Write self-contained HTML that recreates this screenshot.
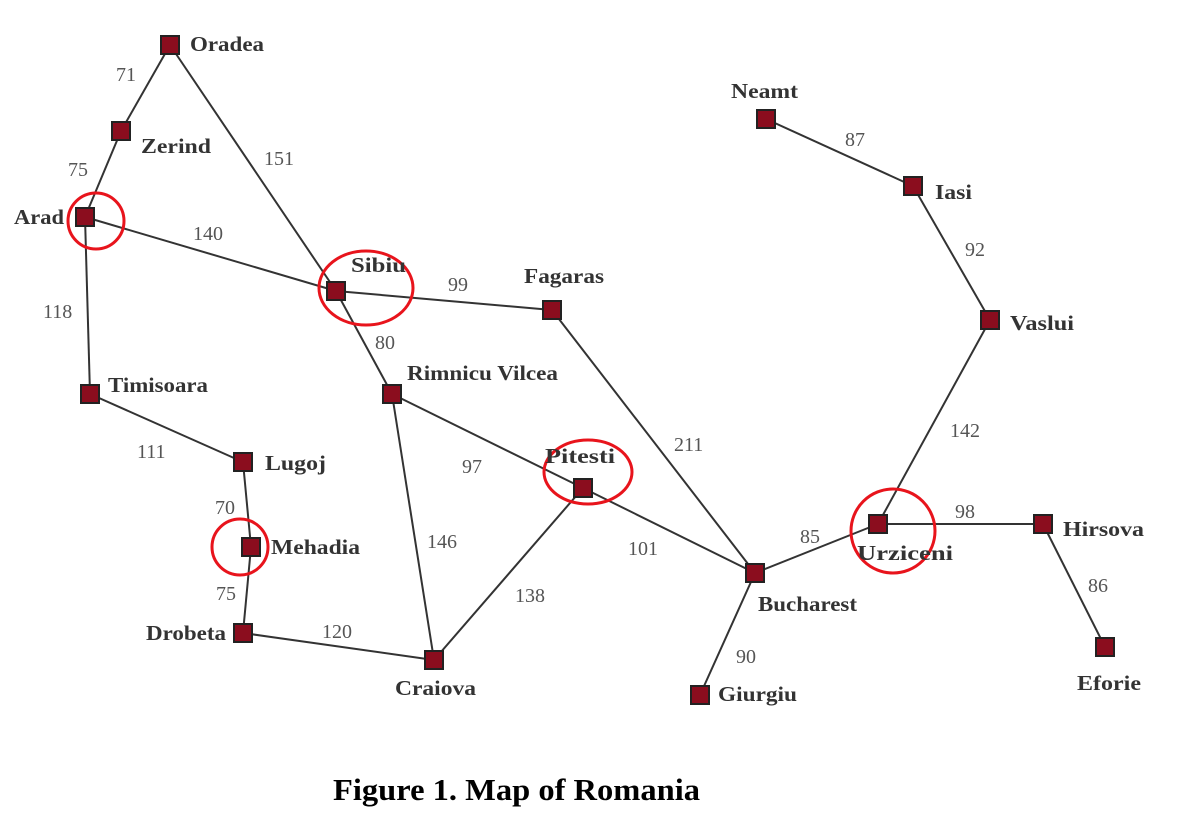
<!DOCTYPE html>
<html><head><style>body{margin:0;background:#fff}</style></head><body>
<svg width="1190" height="830" xmlns="http://www.w3.org/2000/svg" font-family="Liberation Serif, serif">
<g stroke="#333" stroke-width="2">
<line x1="170" y1="45" x2="121" y2="131"/><line x1="121" y1="131" x2="85" y2="217"/>
<line x1="170" y1="45" x2="336" y2="291"/><line x1="85" y1="217" x2="336" y2="291"/>
<line x1="85" y1="217" x2="90" y2="394"/><line x1="90" y1="394" x2="243" y2="462"/>
<line x1="243" y1="462" x2="251" y2="547"/><line x1="251" y1="547" x2="243" y2="633"/>
<line x1="243" y1="633" x2="434" y2="660"/><line x1="336" y1="291" x2="552" y2="310"/>
<line x1="336" y1="291" x2="392" y2="394"/><line x1="392" y1="394" x2="434" y2="660"/>
<line x1="392" y1="394" x2="583" y2="488"/><line x1="583" y1="488" x2="434" y2="660"/>
<line x1="583" y1="488" x2="755" y2="573"/><line x1="552" y1="310" x2="755" y2="573"/>
<line x1="755" y1="573" x2="700" y2="695"/><line x1="755" y1="573" x2="878" y2="524"/>
<line x1="878" y1="524" x2="1043" y2="524"/><line x1="1043" y1="524" x2="1105" y2="647"/>
<line x1="878" y1="524" x2="990" y2="320"/><line x1="990" y1="320" x2="913" y2="186"/>
<line x1="913" y1="186" x2="766" y2="119"/>
</g>
<g fill="#8b0d1e" stroke="#222" stroke-width="2">
<rect x="161" y="36" width="18" height="18"/><rect x="112" y="122" width="18" height="18"/>
<rect x="76" y="208" width="18" height="18"/><rect x="81" y="385" width="18" height="18"/>
<rect x="234" y="453" width="18" height="18"/><rect x="242" y="538" width="18" height="18"/>
<rect x="234" y="624" width="18" height="18"/><rect x="425" y="651" width="18" height="18"/>
<rect x="327" y="282" width="18" height="18"/><rect x="383" y="385" width="18" height="18"/>
<rect x="543" y="301" width="18" height="18"/><rect x="574" y="479" width="18" height="18"/>
<rect x="746" y="564" width="18" height="18"/><rect x="691" y="686" width="18" height="18"/>
<rect x="869" y="515" width="18" height="18"/><rect x="1034" y="515" width="18" height="18"/>
<rect x="1096" y="638" width="18" height="18"/><rect x="981" y="311" width="18" height="18"/>
<rect x="904" y="177" width="18" height="18"/><rect x="757" y="110" width="18" height="18"/>
</g>
<g fill="none" stroke="#e8141c" stroke-width="3">
<circle cx="96" cy="221" r="28"/><ellipse cx="366" cy="288" rx="47" ry="37"/>
<ellipse cx="588" cy="472" rx="44" ry="32"/><circle cx="240" cy="547" r="28"/>
<circle cx="893" cy="531" r="42"/>
</g>
<g fill="#333" font-weight="bold" font-size="21" lengthAdjust="spacingAndGlyphs">
<text x="190" y="51" textLength="74" lengthAdjust="spacingAndGlyphs">Oradea</text><text x="141" y="153" textLength="70" lengthAdjust="spacingAndGlyphs">Zerind</text>
<text x="14" y="224" textLength="50" lengthAdjust="spacingAndGlyphs">Arad</text><text x="108" y="392" textLength="100" lengthAdjust="spacingAndGlyphs">Timisoara</text>
<text x="265" y="470" textLength="61" lengthAdjust="spacingAndGlyphs">Lugoj</text><text x="271" y="554" textLength="89" lengthAdjust="spacingAndGlyphs">Mehadia</text>
<text x="146" y="640" textLength="80" lengthAdjust="spacingAndGlyphs">Drobeta</text><text x="395" y="695" textLength="81" lengthAdjust="spacingAndGlyphs">Craiova</text>
<text x="351" y="272" textLength="55" lengthAdjust="spacingAndGlyphs">Sibiu</text><text x="407" y="380" textLength="151" lengthAdjust="spacingAndGlyphs">Rimnicu Vilcea</text>
<text x="524" y="283" textLength="80" lengthAdjust="spacingAndGlyphs">Fagaras</text><text x="545" y="463" textLength="70" lengthAdjust="spacingAndGlyphs">Pitesti</text>
<text x="758" y="611" textLength="99" lengthAdjust="spacingAndGlyphs">Bucharest</text><text x="718" y="701" textLength="79" lengthAdjust="spacingAndGlyphs">Giurgiu</text>
<text x="857" y="560" textLength="96" lengthAdjust="spacingAndGlyphs">Urziceni</text><text x="1063" y="536" textLength="81" lengthAdjust="spacingAndGlyphs">Hirsova</text>
<text x="1077" y="690" textLength="64" lengthAdjust="spacingAndGlyphs">Eforie</text><text x="1010" y="330" textLength="64" lengthAdjust="spacingAndGlyphs">Vaslui</text>
<text x="935" y="199" textLength="37" lengthAdjust="spacingAndGlyphs">Iasi</text><text x="731" y="98" textLength="67" lengthAdjust="spacingAndGlyphs">Neamt</text>
</g>
<g fill="#555" font-size="20">
<text x="116" y="81">71</text><text x="68" y="176">75</text><text x="264" y="165">151</text>
<text x="193" y="240">140</text><text x="43" y="318">118</text><text x="137" y="458">111</text>
<text x="215" y="514">70</text><text x="216" y="600">75</text><text x="322" y="638">120</text>
<text x="448" y="291">99</text><text x="375" y="349">80</text><text x="462" y="473">97</text>
<text x="427" y="548">146</text><text x="515" y="602">138</text><text x="628" y="555">101</text>
<text x="674" y="451">211</text><text x="800" y="543">85</text><text x="736" y="663">90</text>
<text x="955" y="518">98</text><text x="1088" y="592">86</text><text x="950" y="437">142</text>
<text x="965" y="256">92</text><text x="845" y="146">87</text>
</g>
<text x="333" y="800" textLength="367" lengthAdjust="spacingAndGlyphs" font-weight="bold" font-size="31" fill="#000">Figure 1. Map of Romania</text>
</svg>
</body></html>
